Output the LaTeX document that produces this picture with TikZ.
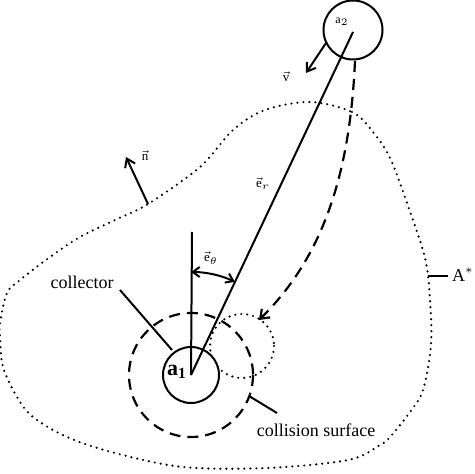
\documentclass[tikz,border=0pt]{standalone}
\usepackage{fontspec}
\setmainfont{Liberation Serif}
\usetikzlibrary{arrows.meta}
\begin{document}
\begin{tikzpicture}[x=0.5pt,y=-0.5pt, line width=1pt,
  dotline/.style={line width=1.2pt, line cap=round, dash pattern=on 0pt off 3pt},
  dashline/.style={line width=1.1pt, dash pattern=on 5.5pt off 3.5pt},
  barb/.style={-{Straight Barb[length=4pt,width=5.5pt]}},
  lbl/.style={font=\fontsize{9}{10}\selectfont, inner sep=0pt},
  vlbl/.style={font=\fontsize{6.5}{7}\selectfont, inner sep=0pt},
  particle/.style={circle, draw, fill=white, inner sep=0pt}]
\useasboundingbox (0,0) rectangle (474,474);

% region A*
\draw[dotline] plot[smooth cycle, tension=0.55] coordinates {
 (310,102) (352,112) (373,132) (390,158) (407,203) (425,258) (430,300)
 (431,345) (423,390) (410,412) (390,437) (380,445) (348,460) (267,468)
 (183,467) (115,453) (67,437) (33,417) (17,397) (3,367) (0,337) (0,323)
 (7,293) (20,280) (50,257) (80,237) (115,220) (148,204) (200,167)
 (233,130) (265,110)};

% dotted small circle
\draw[dotline] (242,346) circle[radius=32];

% collision surface
\draw[dashline] (191,375) circle[radius=62];

% particles
\node[particle, minimum size=28pt] (a1) at (191,375) {};
\node[particle, minimum size=29.5pt] (a2) at (353,30) {};

% labels inside particles
\node[font=\fontsize{11}{12}\selectfont\bfseries, inner sep=0pt] (la1) at (177,372) {a$_{\mathbf{1}}$};
\node[font=\fontsize{6}{7}\selectfont, inner sep=0pt] (la2) at (342,22) {a$_2$};

% radial line and vertical
\coordinate (rtop) at (353,32);
\coordinate (vtop) at (192,232);
\draw (a1.center) -- (rtop);
\draw (a1.center) -- (vtop);

% e_theta arc
\draw[{Straight Barb[length=3.5pt,width=5pt]}-{Straight Barb[length=3.5pt,width=5pt]}]
  ([shift={(-90:103)}]a1.center) arc[start angle=-90, end angle=-64.85, radius=103];
\node[vlbl] (leth) at (211,258) {$\vec{\mathrm{e}}_\theta$};
\node[vlbl] (ler) at (263,184) {$\vec{\mathrm{e}}_r$};

% velocity
\coordinate (vs) at (326,43);
\coordinate (ve) at (306,73);
\draw[barb] (vs) -- (ve);
\node[vlbl] (lv) at (286,77) {$\vec{\mathrm{v}}$};

% normal
\coordinate (ns) at (148,204);
\coordinate (ne) at (126,157);
\draw[barb] (ns) -- (ne);
\node[vlbl] (ln) at (145,156) {$\vec{\mathrm{n}}$};

% trajectory
\coordinate (ts) at (355,61);
\coordinate (te) at (259,320);
\draw[dashline, -{Straight Barb[length=4pt,width=6pt]}] (ts) .. controls (350,170) and (325,255) .. (te);

% collector label
\node[lbl] (lcol) at (82,282) {collector};
\coordinate (cs) at (120,290);
\coordinate (ce) at (172,350);
\draw (cs) -- (ce);

% collision surface label
\node[lbl] (lcs) at (316,430) {collision surface};
\coordinate (ss) at (249,396);
\coordinate (se) at (277,413);
\draw (ss) -- (se);

% A*
\coordinate (as) at (428,276);
\coordinate (ae) at (448,276);
\draw (as) -- (ae);
\node[font=\fontsize{9}{10}\selectfont, inner sep=0pt, anchor=west] (lA) at (451,275) {A$^{*}$};
\end{tikzpicture}
\end{document}
